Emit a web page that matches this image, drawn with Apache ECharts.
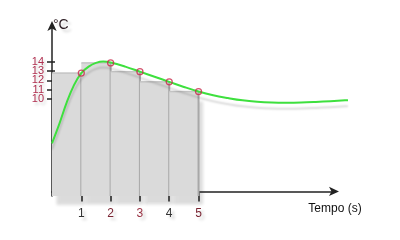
<!DOCTYPE html>
<html>
<head>
<meta charset="utf-8">
<script src="https://cdn.jsdelivr.net/npm/echarts@6/dist/echarts.min.js"></script>
<style>html,body{margin:0;padding:0;background:#fff}#c{width:400px;height:240px}</style>
</head>
<body>
<div id="c"></div>
<script>
const xTicks = [1, 2, 3, 4, 5];
const yTicks = [10, 11, 12, 13, 14];
const barEnds = [1, 2, 3, 4, 5];
const barHeights = [12.8, 13.9, 12.95, 11.85, 10.8];
const curveT = [0, 0.25, 0.5, 0.75, 1, 1.25, 1.5, 1.75, 2, 2.5, 3, 3.5, 4, 4.5, 5, 5.5, 6, 6.5, 7, 7.5, 8, 8.5, 9, 9.5, 10, 10.1];
const curveV = [5.2, 7.3, 9.6, 11.5, 12.8, 13.5, 13.9, 14.05, 13.95, 13.5, 12.95, 12.4, 11.85, 11.3, 10.8, 10.4, 10.1, 9.85, 9.7, 9.62, 9.6, 9.62, 9.68, 9.76, 9.85, 9.87];
const markT = [1, 2, 3, 4, 5];
const markV = [12.8, 13.9, 12.95, 11.85, 10.8];

const Y_MIN = -0.5, Y_MAX = 18;
const X_AXIS_MAX = 9.66, X_DATA_MAX = 10.1;
const xLabelColors = {1: '#333333', 2: '#7a2533', 3: '#9a3344', 4: '#333333', 5: '#7a2533'};
const FONT = 'Liberation Sans, Arial, sans-serif';
// split the tightly spaced y labels across two overlaid axes so none get hidden
const yTicksA = yTicks.filter((v, i) => i % 2 === 0);
const yTicksB = yTicks.filter((v, i) => i % 2 === 1);

function yLabel(vals) {
  return {
    customValues: vals, margin: 8, fontSize: 11, fontFamily: FONT, color: '#b03050',
    showMinLabel: true, showMaxLabel: true, hideOverlap: false,
    textShadowColor: 'rgba(0,0,0,0.18)', textShadowBlur: 3, textShadowOffsetX: 2, textShadowOffsetY: 3
  };
}
const tickStyle = {color: '#222', width: 1.5};

const chart = echarts.init(document.getElementById('c'), null, {renderer: 'canvas'});
chart.setOption({
  animation: false,
  backgroundColor: '#ffffff',
  grid: [
    {left: 52, top: 25, width: 296, bottom: 44},
    {left: 52, top: 25, width: 283, bottom: 44}
  ],
  xAxis: [
    {gridIndex: 0, type: 'value', min: 0, max: X_DATA_MAX, show: false},
    {
      gridIndex: 1, type: 'value', min: 0, max: X_AXIS_MAX,
      splitLine: {show: false},
      axisLine: {lineStyle: {color: '#222', width: 1.5}, symbol: ['none', 'arrow'], symbolSize: [7, 10], symbolOffset: [0, 4]},
      axisTick: {show: true, length: 10, lineStyle: tickStyle, customValues: xTicks},
      axisLabel: {
        customValues: xTicks, margin: 12, fontSize: 12, fontFamily: FONT,
        color: v => xLabelColors[v] || '#333',
        textShadowColor: 'rgba(0,0,0,0.18)', textShadowBlur: 3, textShadowOffsetX: 3, textShadowOffsetY: 3
      },
      name: 'Tempo (s)', nameLocation: 'end', nameGap: 0,
      nameTextStyle: {align: 'center', verticalAlign: 'top', padding: [11, 0, 0, 0], fontSize: 12, color: '#111', fontFamily: FONT}
    }
  ],
  yAxis: [
    {
      gridIndex: 0, type: 'value', position: 'left', offset: 0, min: Y_MIN, max: Y_MAX,
      splitLine: {show: false},
      axisLine: {show: false},
      axisTick: {show: true, length: 5, lineStyle: tickStyle, customValues: yTicksB},
      axisLabel: yLabel(yTicksB)
    },
    {
      gridIndex: 1, type: 'value', position: 'left', offset: 0, min: Y_MIN, max: Y_MAX,
      splitLine: {show: false},
      axisLine: {lineStyle: {color: '#222', width: 1.5}, symbol: ['none', 'arrow'], symbolSize: [7, 10], symbolOffset: [0, 4]},
      axisTick: {show: true, length: 5, lineStyle: tickStyle, customValues: yTicksA},
      axisLabel: yLabel(yTicksA),
      name: '°C', nameLocation: 'end', nameGap: 0,
      nameTextStyle: {align: 'left', verticalAlign: 'middle', padding: [0, 0, 0, 1], fontSize: 14, color: '#2a1a20', fontFamily: FONT,
        textShadowColor: 'rgba(0,0,0,0.2)', textShadowBlur: 3, textShadowOffsetX: 3, textShadowOffsetY: 3}
    },
    {
      gridIndex: 1, type: 'value', position: 'left', offset: 0, min: Y_MIN, max: Y_MAX,
      splitLine: {show: false},
      axisLine: {show: false},
      axisTick: {show: true, inside: true, length: 3, lineStyle: tickStyle, customValues: yTicks},
      axisLabel: {show: false}
    }
  ],
  series: [
    {
      type: 'custom', z: 1, xAxisIndex: 0, yAxisIndex: 0,
      data: barEnds.map((e, i) => [e, barHeights[i]]),
      renderItem: function (params, api) {
        const x1 = api.value(0), h = api.value(1);
        const pTop = api.coord([x1 - 1, h]);
        const pBot = api.coord([x1, Y_MIN]);
        const w = pBot[0] - pTop[0], ht = pBot[1] - pTop[1];
        return {
          type: 'group',
          children: [
            {type: 'rect', shape: {x: pTop[0], y: pTop[1], width: w, height: ht},
              style: {fill: '#dadada', shadowColor: 'rgba(0,0,0,0.14)', shadowBlur: 3, shadowOffsetX: 4, shadowOffsetY: 9}},
            {type: 'line', shape: {x1: pTop[0], y1: pTop[1], x2: pBot[0], y2: pTop[1]}, style: {stroke: '#c4c4c4', lineWidth: 1.5}},
            {type: 'line', shape: {x1: pBot[0], y1: pTop[1], x2: pBot[0], y2: pBot[1]}, style: {stroke: '#a8a8a8', lineWidth: 2}}
          ]
        };
      }
    },
    {
      type: 'line', z: 3, xAxisIndex: 0, yAxisIndex: 0, smooth: 0.4, showSymbol: false,
      data: curveT.map((t, i) => [t, curveV[i]]),
      lineStyle: {color: '#3ee03e', width: 2, shadowColor: 'rgba(0,0,0,0.14)', shadowBlur: 2, shadowOffsetY: 6}
    },
    {
      type: 'scatter', z: 4, xAxisIndex: 0, yAxisIndex: 0, symbol: 'circle', symbolSize: 6,
      data: markT.map((t, i) => [t, markV[i]]),
      itemStyle: {color: 'rgba(255,255,255,0)', borderColor: '#c8284a', borderWidth: 1.3}
    }
  ]
});
</script>
</body>
</html>
